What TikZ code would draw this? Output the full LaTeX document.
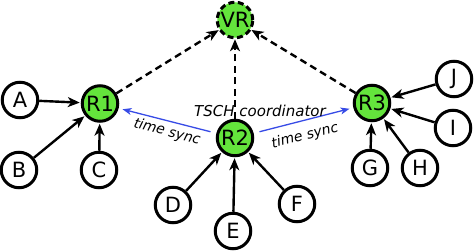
\documentclass[tikz,border=0pt]{standalone}
\usepackage{fontspec}
\setmainfont{DejaVu Sans}
\usetikzlibrary{arrows.meta}
\definecolor{nodegreen}{RGB}{100,228,60}
\definecolor{syncblue}{RGB}{55,75,230}
\begin{document}
\begin{tikzpicture}[x=1pt,y=-1pt,
  leaf/.style={circle,draw,line width=3pt,minimum size=35.5pt,inner sep=0pt,font=\fontsize{21}{21}\selectfont},
  router/.style={leaf,fill=nodegreen},
  vroot/.style={router,dash pattern=on 6pt off 3.5pt},
  link/.style={line width=2.4pt,-{Stealth[length=12pt,width=10pt,inset=3.5pt]}},
  uplink/.style={link,dash pattern=on 7pt off 4.5pt},
  sync/.style={syncblue,line width=1.3pt,-{Stealth[length=9pt,width=7pt,inset=2.5pt]}},
  lbl/.style={font=\itshape\fontsize{14}{14}\selectfont,inner sep=0pt}
]
\useasboundingbox (0,0) rectangle (474,251);
\node[vroot] (VR) at (235,20) {VR};
\node[router] (R1) at (100,103.5) {R1};
\node[router] (R2) at (235,138) {R2};
\node[router] (R3) at (372,103) {R3};
\node[leaf] (A) at (20,100) {A};
\node[leaf] (B) at (19,170) {B};
\node[leaf] (C) at (99,170) {C};
\node[leaf] (D) at (173,205) {D};
\node[leaf] (E) at (233,231) {E};
\node[leaf] (F) at (297,204) {F};
\node[leaf] (G) at (370,168) {G};
\node[leaf] (H) at (420,168) {H};
\node[leaf] (I) at (453,128) {I};
\node[leaf] (J) at (454,79) {J};
\foreach \s/\t in {A/R1,B/R1,C/R1,D/R2,E/R2,F/R2,G/R3,H/R3,I/R3,J/R3}
  \draw[link,shorten >=1pt] (\s) -- (\t);
\foreach \s in {R1,R2,R3}
  \draw[uplink] (\s) -- (VR);
\draw[sync,shorten <=6pt,shorten >=4pt] (R2) -- (R1);
\draw[sync,shorten <=6pt,shorten >=4pt] (R2) -- (R3);
\node[lbl,font=\itshape\fontsize{15}{15}\selectfont] (tsch) at (260,110.5) {TSCH coordinator};
\node[lbl,rotate=-14.5] (ts1) at (167,132) {time sync};
\node[lbl,rotate=14.3] (ts2) at (305,136) {time sync};
\end{tikzpicture}
\end{document}
